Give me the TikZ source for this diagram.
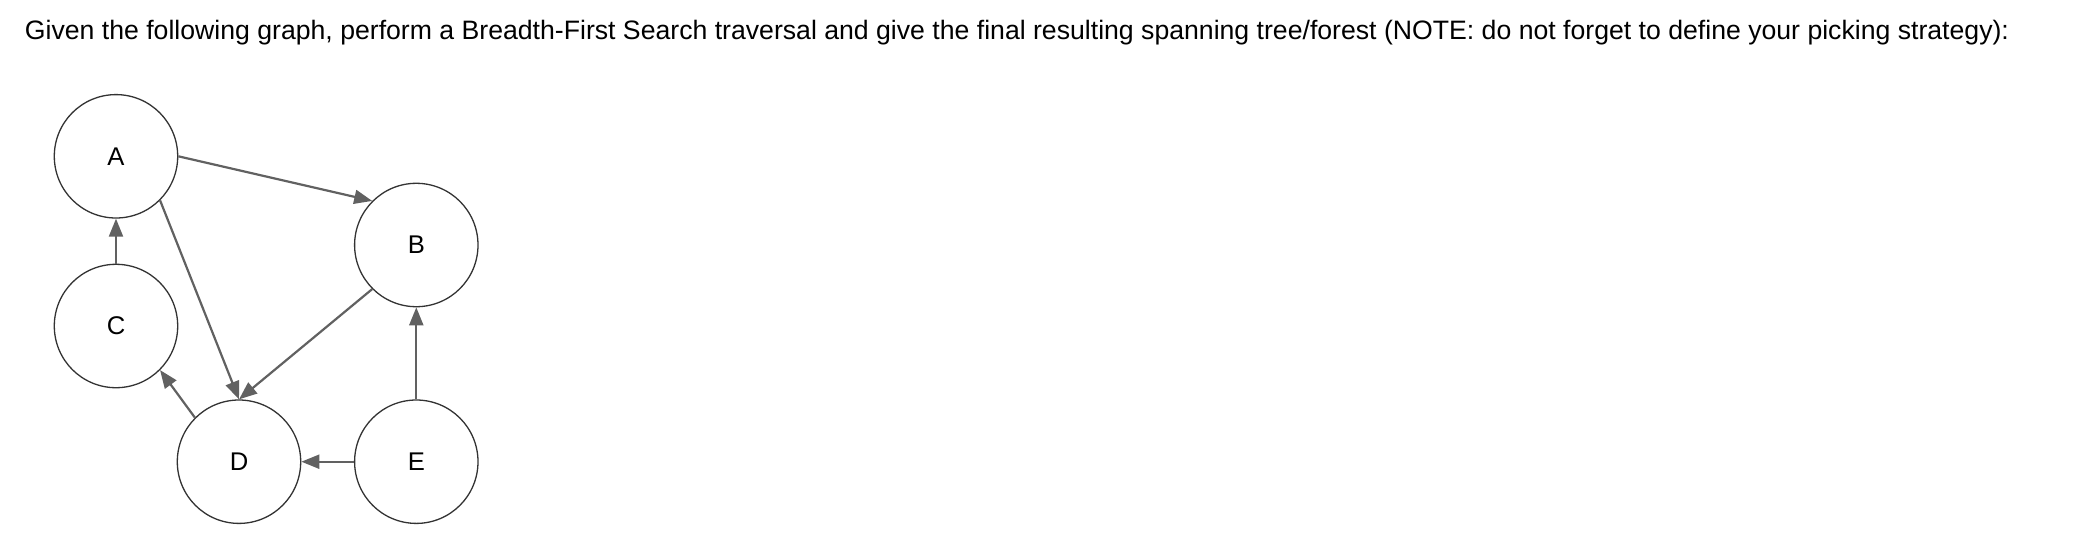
\documentclass[tikz,border=0pt]{standalone}
\usepackage{fontspec}
\setmainfont{Liberation Sans}
\usetikzlibrary{arrows.meta}
\begin{document}
\begin{tikzpicture}[x=0.5pt,y=-0.5pt,
  vertex/.style={circle,draw=black!80,line width=0.65pt,minimum size=61.7pt,inner sep=0pt,font=\fontsize{12.8}{15}\selectfont},
  edge/.style={draw=black!62,line width=1.1pt,-{Triangle[length=9pt,width=7pt]}}]
\useasboundingbox (0,0) rectangle (2092,552);
\node[anchor=base west,inner sep=0pt,font=\fontsize{13.32}{16}\selectfont] (question) at (24.5,39.3) {Given the following graph, perform a Breadth-First Search traversal and give the final resulting spanning tree/forest (NOTE: do not forget to define your picking strategy):};
\node[vertex] (A) at (116,156.3) {A};
\node[vertex] (B) at (416.3,245) {B};
\node[vertex] (C) at (116,326) {C};
\node[vertex] (D) at (239,461.7) {D};
\node[vertex] (E) at (416.3,461.7) {E};
\draw[edge] (A.east) -- (B.135);
\draw[edge] (A.-45) -- (D.north);
\draw[edge] (B.-135) -- (D.north);
\draw[edge] (C.north) -- (A.south);
\draw[edge] (D.135) -- (C.-45);
\draw[edge] (E.north) -- (B.south);
\draw[edge] (E.west) -- (D.east);
\end{tikzpicture}
\end{document}
